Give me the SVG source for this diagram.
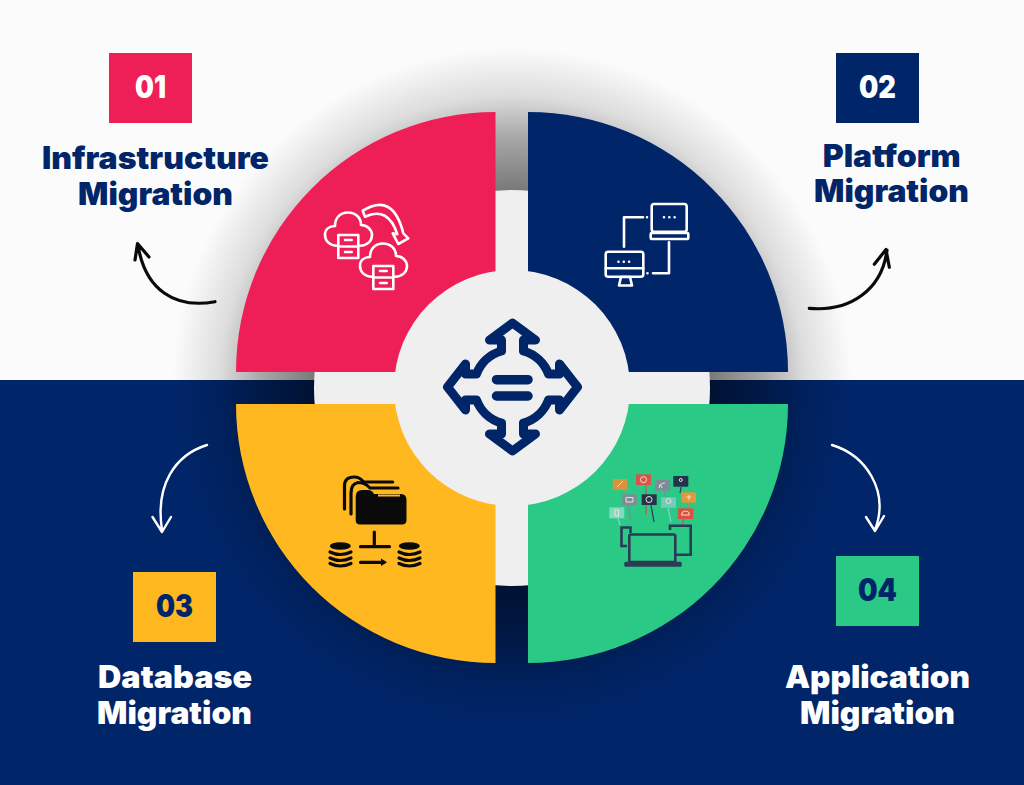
<svg xmlns="http://www.w3.org/2000/svg" xmlns:xlink="http://www.w3.org/1999/xlink" width="1024" height="785" viewBox="0 0 1024 785">
<style>
.lab{font-family:Inter,"Liberation Sans",sans-serif;font-weight:900;font-size:31px}
.num{font-family:Inter,"Liberation Sans",sans-serif;font-weight:900;font-size:31px}
.navy{fill:#002569}.white{fill:#fff}
.w{fill:none;stroke:#fff;stroke-width:2.600;stroke-linejoin:round;stroke-linecap:round}
.k{fill:none;stroke:#0a0a0a;stroke-width:3.200;stroke-linejoin:round;stroke-linecap:round}
.d{fill:none;stroke:#2b3a55;stroke-width:2.600}
.arrk{fill:none;stroke:#0a0a0a;stroke-width:3.200;stroke-linecap:round;stroke-linejoin:round}
.arrw{fill:none;stroke:#fff;stroke-width:2.400;stroke-linecap:round;stroke-linejoin:round}
</style>
<defs>
<radialGradient id="sh" gradientUnits="userSpaceOnUse" cx="512" cy="388" r="340">
<stop offset="0" stop-color="#000" stop-opacity=".55"/>
<stop offset=".58" stop-color="#000" stop-opacity=".52"/>
<stop offset=".74" stop-color="#000" stop-opacity=".33"/>
<stop offset=".86" stop-color="#000" stop-opacity=".12"/>
<stop offset="1" stop-color="#000" stop-opacity="0"/>
</radialGradient>
<g id="cloud">
<path class="w" d="M337,245.700C330,245.700 325,241 325,235C325,229.500 329,226 335,226C335,217 341,212.500 348,212.500C355,212.500 361,217 361,225C367,225 372,229.500 372,235C372,241 367,245.700 360,245.700"/>
<rect class="w" x="338.300" y="235" width="20" height="23"/>
<path class="w" d="M338.300,246.500H358.300M345,240H351.700M345,252H351.700"/>
</g>
</defs>
<g id="background">
<rect width="1024" height="380" fill="#fbfbfb"/>
<rect y="380" width="1024" height="405" fill="#002569"/>
<circle cx="512" cy="388" r="340" fill="url(#sh)"/>
<circle cx="512" cy="388" r="198" fill="#efefef"/>
</g>
<g id="node-infrastructure">
<path d="M495.500,372H236A259.500,260 0 0 1 495.500,112Z" fill="#ee1f57"/>
<use xlink:href="#cloud"/>
<use xlink:href="#cloud" x="35" y="31"/>
<path class="w" d="M362.700,210.700Q393,192 403.300,233.300L408.300,238.300L398.300,244L392.700,233.300L397.300,234.300Q388.300,206 365,216.700Z"/>
<rect x="109" y="53" width="83" height="70" fill="#ee1f57"/>
<text class="num white" x="150.500" y="97.700" text-anchor="middle" textLength="31" lengthAdjust="spacingAndGlyphs">01</text>
<text class="lab navy" x="155.500" y="169" text-anchor="middle" textLength="227" lengthAdjust="spacingAndGlyphs">Infrastructure</text>
<text class="lab navy" x="155.500" y="204.500" text-anchor="middle" textLength="155" lengthAdjust="spacingAndGlyphs">Migration</text>
</g>
<g id="node-platform">
<path d="M528,372H788A260,260 0 0 0 528,112Z" fill="#002569"/>
<rect class="w" x="651.700" y="204" width="35" height="27.700" rx="2.500"/>
<rect class="w" x="650.700" y="233" width="37.600" height="6" rx="1"/>
<rect class="w" x="605.700" y="251.700" width="37.600" height="25" rx="2.500"/>
<path class="w" d="M605.700,268.300H643.300M621,277L619,285.500H632L630,277Z"/>
<path class="w" d="M624,246.700V217.300H643M669,242.300V273.300H653"/>
<path class="w" stroke-dasharray="0 5.300" d="M664,217.300H676M618.500,261.700H631M647,217.300H648M647.500,273.300H648.500"/>
<rect x="836" y="53" width="83" height="70" class="navy"/>
<text class="num white" x="877.500" y="97.700" text-anchor="middle" textLength="37" lengthAdjust="spacingAndGlyphs">02</text>
<text class="lab navy" x="891.700" y="166.700" text-anchor="middle" textLength="138" lengthAdjust="spacingAndGlyphs">Platform</text>
<text class="lab navy" x="891.500" y="202" text-anchor="middle" textLength="155" lengthAdjust="spacingAndGlyphs">Migration</text>
</g>
<g id="node-database">
<path d="M495.500,404H236A259.500,259 0 0 0 495.500,663Z" fill="#ffb81f"/>
<path class="k" d="M344.500,509V486Q344.500,477 354,477Q360,477 363.500,482H392.700M351,514V493Q351,484 358,482.500Q365,482.500 370,488H398"/>
<path d="M355.700,497Q355.700,490 362,490H368Q372,490 374,494H401Q406.500,494 406.500,500V520Q406.500,524.500 402,524.500H360Q355.700,524.500 355.700,520Z" fill="#0a0a0a"/>
<path d="M378,495.500H400" stroke="#ffb81f" stroke-width="2" fill="none"/>
<path class="k" d="M374.300,532V546.700M360.500,546.700H389.500M360.500,562.300H384"/>
<path d="M381,558.500L387,562.300L381,566Z" fill="#0a0a0a"/>
<ellipse cx="340.300" cy="546" rx="10.500" ry="3.800" fill="#0a0a0a"/>
<path class="k" d="M330,552Q340.300,557 351,552M330,558Q340.300,563 351,558M330,563.500Q340.300,568.500 351,563.500"/>
<ellipse cx="409.300" cy="546" rx="10.500" ry="3.800" fill="#0a0a0a"/>
<path class="k" d="M399,552Q409.300,557 420,552M399,558Q409.300,563 420,558M399,563.500Q409.300,568.500 420,563.500"/>
<rect x="133" y="572" width="83" height="70" fill="#ffb81f"/>
<text class="num navy" x="174.500" y="617" text-anchor="middle" textLength="37" lengthAdjust="spacingAndGlyphs">03</text>
<text class="lab white" x="175" y="688" text-anchor="middle" textLength="154" lengthAdjust="spacingAndGlyphs">Database</text>
<text class="lab white" x="174.500" y="723.500" text-anchor="middle" textLength="155" lengthAdjust="spacingAndGlyphs">Migration</text>
</g>
<g id="node-application">
<path d="M528,404H788A260,259 0 0 1 528,663Z" fill="#2ac986"/>
<g stroke-width="1.200" fill="none">
<path stroke="#c98a3a" d="M625,490L626,497"/><path stroke="#c95a4a" d="M646,485V515"/><path stroke="#7d8a96" d="M665,491V497"/><path stroke="#2b3a55" d="M681,487L680,493"/>
<path stroke="#7d8a96" d="M628,505L631,520"/><path stroke="#2b3a55" d="M651,505L654,522"/><path stroke="#7fd8c0" d="M668,508L671,522"/><path stroke="#c98a3a" d="M690,503L688,508"/><path stroke="#7fd8c0" d="M618,518L620,525"/><path stroke="#c95a4a" d="M684,519L682,525"/>
</g>
<rect x="612.700" y="479" width="14.600" height="11" fill="#d9923d"/>
<rect x="636" y="474.300" width="15" height="10.700" fill="#d9534a"/>
<rect x="655" y="480" width="15" height="10.700" fill="#7f8b99"/>
<rect x="673.300" y="476" width="15" height="10.700" fill="#23344e"/>
<rect x="622.300" y="494.300" width="14.400" height="10.700" fill="#7f8b99"/>
<rect x="641.700" y="494.300" width="15" height="10.700" fill="#23344e"/>
<rect x="661" y="497.300" width="15" height="10.400" fill="#6fcdbd"/>
<rect x="681.700" y="492.300" width="14.300" height="10.400" fill="#e3983f"/>
<rect x="609.300" y="507.300" width="15" height="11" fill="#7fdcc2"/>
<rect x="677.700" y="508.300" width="15.600" height="10.700" fill="#dc5044"/>
<g fill="none" stroke="#f1e3c8" stroke-width="1">
<path d="M617,487L623,481"/><circle cx="643.500" cy="479.700" r="3"/><path d="M659,488A6,6 0 0 1 665,483M659,485A3,3 0 0 1 662,488"/><circle cx="680.800" cy="480" r="1.500"/><path d="M626,497.500H633V502H626Z"/><circle cx="649" cy="499.500" r="3"/><circle cx="668.500" cy="501" r="2.500"/><path d="M689,495V500M686.500,497H691"/><path d="M615,510V516H618.500V510Z"/><path d="M681.500,515A4,4 0 0 1 689.500,515H681.500"/>
</g>
<path class="d" d="M630.500,533V527.500H621.500V546H627M670,530V525.800H690.700V554.800H676"/>
<rect class="d" x="629.300" y="534.500" width="46" height="27.500" rx="1.500"/>
<rect x="624.300" y="561.700" width="57.400" height="5" rx="1.500" fill="#2b3a55"/>
<rect x="836" y="556" width="83" height="70" fill="#2ac986"/>
<text class="num navy" x="877.500" y="601" text-anchor="middle" textLength="39" lengthAdjust="spacingAndGlyphs">04</text>
<text class="lab white" x="877.500" y="688" text-anchor="middle" textLength="185" lengthAdjust="spacingAndGlyphs">Application</text>
<text class="lab white" x="877.500" y="723.500" text-anchor="middle" textLength="155" lengthAdjust="spacingAndGlyphs">Migration</text>
</g>
<g id="node-center">
<circle cx="512" cy="388" r="118" fill="#efefef"/>
<path fill="none" stroke="#002569" stroke-width="9" stroke-linejoin="round" d="M512.500,323L535.500,340H523.500V351A38,38 0 0 1 548.500,374H559.500V364L577.500,387L559.500,410V400H548.500A38,38 0 0 1 523.500,423V434H535.500L512.500,451L489.500,434H501.500V423A38,38 0 0 1 476.500,400H465.500V410L447.500,387L465.500,364V374H476.500A38,38 0 0 1 501.500,351V340H489.500Z"/>
<path fill="none" stroke="#002569" stroke-width="9.500" stroke-linecap="round" d="M496.500,379.700H528M496.500,396H528"/>
</g>
<g id="connectors">
<path class="arrk" d="M215,301.700C175,309 145,290 138,245M135,260L137.500,243.500L149,257"/>
<path class="arrk" d="M809.300,308.300C850,312 882,290 887,250M874.300,264.300L886,249.500L889.300,267.300"/>
<path class="arrw" d="M207,445C175,455 155,485 162,530M152.500,517L162,532L171,517"/>
<path class="arrw" d="M832,445C865,455 890,490 875,530M866,517L875,531L884,516"/>
</g>
</svg>
